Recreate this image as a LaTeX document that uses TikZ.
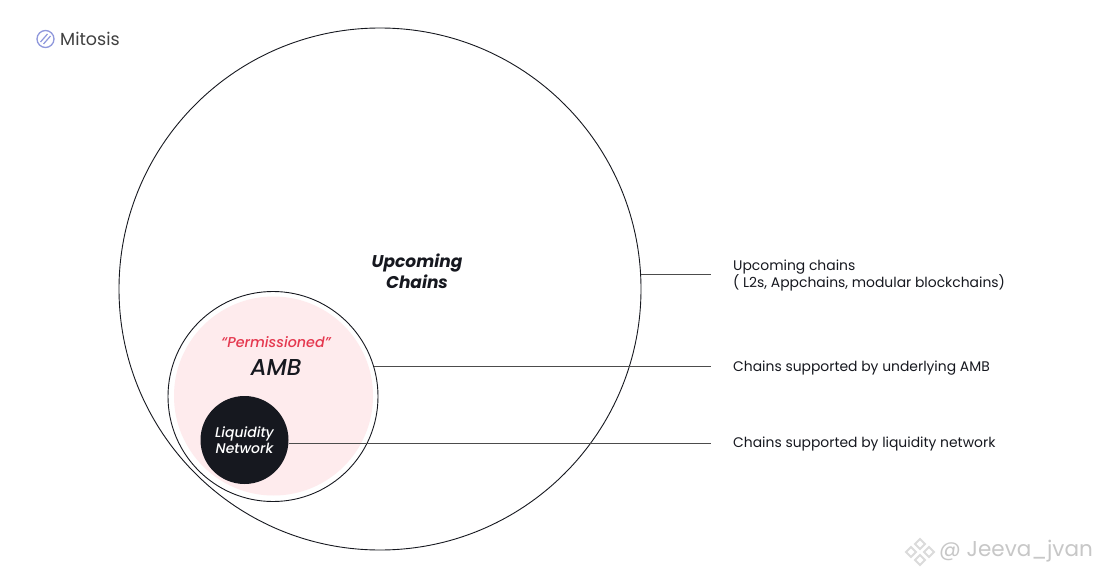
\documentclass[tikz,border=0pt]{standalone}
\usepackage{fontspec}
\setmainfont{Poppins}
\newfontfamily\medfont[ItalicFont={Poppins Medium Italic}]{Poppins Medium}
\definecolor{inkc}{HTML}{16181F}
\definecolor{pinkc}{HTML}{FEEBED}
\definecolor{redc}{HTML}{E5384F}
\definecolor{logoc}{HTML}{8F98DC}
\tikzset{
 x=1pt,y=-1pt,
 ring/.style={circle,draw=inkc,line width=0.9pt,inner sep=0pt,outer sep=0pt},
 link/.style={draw=black!70,line width=1pt},
 lbl/.style={anchor=west,align=left,inner sep=0pt,font=\fontsize{13.9}{17.5}\selectfont,text=inkc},
 ital/.style={align=center,inner sep=0pt,text=inkc},
}
\begin{document}
\begin{tikzpicture}
\useasboundingbox (0,0) rectangle (1100,578);
\fill[white] (0,0) rectangle (1100,578);
\node[ring,minimum size=522pt] (big) at (380,289) {};
\node[circle,fill=pinkc,minimum size=199pt,inner sep=0pt] (pink) at (273.5,396) {};
\node[ring,minimum size=210pt] (mid) at (273,396.5) {};
\node[circle,fill=inkc,minimum size=88pt,inner sep=0pt] (dark) at (244.5,440) {};
\node[ital,font=\fontsize{17}{21.5}\selectfont\bfseries\itshape] (up) at (417,271.5) {Upcoming\\Chains};
\node[ital,font=\fontsize{14.3}{16}\medfont\selectfont\itshape,text=redc] (perm) at (276,342) {“Permissioned”};
\node[ital,font=\fontsize{23}{25}\medfont\selectfont\itshape] (amb) at (276,367) {AMB};
\node[ital,font=\fontsize{14}{16.5}\medfont\selectfont\itshape,text=white] (liq) at (244.5,440) {Liquidity\\Network};
\node[lbl] (t1) at (733,275.5) {Upcoming chains\\( L2s, Appchains, modular blockchains)};
\node[lbl] (t2) at (733,368) {Chains supported by underlying AMB};
\node[lbl] (t3) at (733,444.5) {Chains supported by liquidity network};
\coordinate (e1) at (711,274);
\coordinate (e2) at (711,366);
\coordinate (e3) at (711,443);
\draw[link] (big.3.3 |- e1) -- (e1);
\draw[link] (mid.16.9 |- e2) -- (e2);
\draw[link] (dark.-4 |- e3) -- (e3);
% logo
\node[circle,draw=logoc,line width=1.3pt,minimum size=17pt,inner sep=0pt] (logo) at (45.5,39) {};
\draw[logoc,line width=1.2pt] (logo.center)++(-5,3) -- ++(7,-8);
\draw[logoc,line width=1.2pt] (logo.center)++(-2,5) -- ++(7,-8);
\node[anchor=west,inner sep=0pt,font=\fontsize{17.5}{20}\selectfont,text=black!75] (mit) at (60,39) {Mitosis};
% watermark
\foreach \dx/\dy in {0/-8,-9/0,9/0,0/8}
 \draw[black!14,line width=1.8pt] (920,552)++(\dx,\dy)++(-5,0) -- ++(5,-5) -- ++(5,5) -- ++(-5,5) -- cycle;
\node[anchor=west,inner sep=0pt,font=\fontsize{21.5}{24}\selectfont,text=black!22] (wm) at (939,551) {@ Jeeva\_jvan};
\end{tikzpicture}
\end{document}
